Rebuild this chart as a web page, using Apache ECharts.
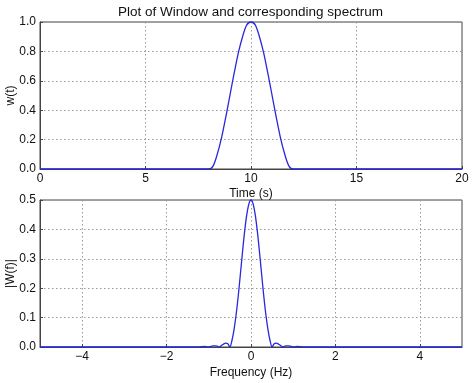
<!DOCTYPE html>
<html>
<head>
<meta charset="utf-8">
<script src="https://cdn.jsdelivr.net/npm/echarts@6/dist/echarts.min.js"></script>
<style>html,body{margin:0;padding:0;background:#fff}#c{width:474px;height:383px}</style>
</head>
<body>
<div id="c"></div>
<script>
// ---- Data ----
var titleText = 'Plot of Window and corresponding spectrum';
// Top panel: window w(t)
var timeVals = [0, 8, 8.2, 8.4, 8.6, 8.8, 9, 9.2, 9.4, 9.6, 9.8, 10, 10.2, 10.4, 10.6, 10.8, 11, 11.2, 11.4, 11.6, 11.8, 12, 20];
var windowVals = [0, 0, 0.02, 0.10, 0.21, 0.35, 0.50, 0.65, 0.79, 0.90, 0.98, 1.00, 0.98, 0.90, 0.79, 0.65, 0.50, 0.35, 0.21, 0.10, 0.02, 0, 0];
var timeTicks = [0, 5, 10, 15, 20];
var wTicks = [0, 0.2, 0.4, 0.6, 0.8, 1.0];
// Bottom panel: spectrum |W(f)|
var freqVals = [-5, -1.5, -1.25, -1.2, -1.15, -1.1, -1.05, -1.0, -0.95, -0.9, -0.85, -0.8, -0.75, -0.7, -0.65, -0.6, -0.55, -0.5, -0.45, -0.4, -0.35, -0.3, -0.25, -0.2, -0.15, -0.1, -0.05, 0,
                0.05, 0.1, 0.15, 0.2, 0.25, 0.3, 0.35, 0.4, 0.45, 0.5, 0.55, 0.6, 0.65, 0.7, 0.75, 0.8, 0.85, 0.9, 0.95, 1.0, 1.05, 1.1, 1.15, 1.2, 1.25, 1.5, 5];
var spectrumVals = [0, 0, 0, 0.0009, 0.0016, 0.0019, 0.0013, 0, 0.002, 0.0035, 0.004, 0.003, 0, 0.005, 0.010, 0.013, 0.011, 0, 0.023, 0.061, 0.113, 0.177, 0.250, 0.325, 0.394, 0.450, 0.487, 0.500,
                    0.487, 0.450, 0.394, 0.325, 0.250, 0.177, 0.113, 0.061, 0.023, 0, 0.011, 0.013, 0.010, 0.005, 0, 0.003, 0.004, 0.0035, 0.002, 0, 0.0013, 0.0019, 0.0016, 0.0009, 0, 0, 0];
var freqTicks = [-4, -2, 0, 2, 4];
var specTicks = [0, 0.1, 0.2, 0.3, 0.4, 0.5];

function pairs(xs, ys) { return xs.map(function (x, i) { return [x, ys[i]]; }); }
function minusFmt(v) { return v < 0 ? '\u2212' + (-v) : String(v); }

var FONT = 'Liberation Sans';
var SPINE = '#444';
var LINE = '#2828dc';
var gridSplit = { show: true, lineStyle: { color: '#999', type: [1.5, 2.5], width: 1 } };
var labelBase = { color: '#111', fontSize: 12, fontFamily: FONT };
var nameBase = { color: '#111', fontSize: 12, fontFamily: FONT };

var chart = echarts.init(document.getElementById('c'), null, { renderer: 'canvas' });
chart.setOption({
  animation: false,
  backgroundColor: '#fff',
  title: {
    text: titleText, left: 113, top: 0,
    textStyle: { color: '#111', fontSize: 13.5, fontWeight: 'normal', fontFamily: FONT }
  },
  grid: [
    { left: 40, right: 12, top: 22, height: 147, show: true, borderColor: SPINE, borderWidth: 1, containLabel: false, outerBoundsMode: 'none' },
    { left: 40, right: 12, top: 200, height: 147, show: true, borderColor: SPINE, borderWidth: 1, containLabel: false, outerBoundsMode: 'none' }
  ],
  xAxis: [
    {
      type: 'value', gridIndex: 0, min: timeTicks[0], max: timeTicks[timeTicks.length - 1], interval: 5,
      name: 'Time (s)', nameLocation: 'middle', nameGap: 19, nameTextStyle: nameBase,
      axisLine: { show: true, onZero: false, lineStyle: { color: SPINE } },
      axisTick: { show: true, inside: true, length: 3, lineStyle: { color: SPINE } },
      axisLabel: Object.assign({ margin: 4, formatter: function (v) { return String(v); } }, labelBase),
      splitLine: gridSplit
    },
    {
      type: 'value', gridIndex: 1, min: -5, max: 5,
      name: 'Frequency (Hz)', nameLocation: 'middle', nameGap: 20, nameTextStyle: nameBase,
      axisLine: { show: true, onZero: false, lineStyle: { color: SPINE } },
      axisTick: { show: true, inside: true, length: 3, lineStyle: { color: SPINE }, customValues: freqTicks },
      axisLabel: Object.assign({ margin: 4, customValues: freqTicks, formatter: minusFmt }, labelBase),
      splitLine: gridSplit
    }
  ],
  yAxis: [
    {
      type: 'value', gridIndex: 0, min: wTicks[0], max: wTicks[wTicks.length - 1], interval: 0.2,
      name: 'w(t)', nameLocation: 'middle', nameGap: 23, nameRotate: 90, nameMoveOverlap: false, nameTextStyle: nameBase,
      axisLine: { show: true, onZero: false, lineStyle: { color: SPINE } },
      axisTick: { show: true, inside: true, length: 3, lineStyle: { color: SPINE } },
      axisLabel: Object.assign({ margin: 4, formatter: function (v) { return v.toFixed(1); } }, labelBase),
      splitLine: gridSplit
    },
    {
      type: 'value', gridIndex: 1, min: specTicks[0], max: specTicks[specTicks.length - 1], interval: 0.1,
      name: '|W(f)|', nameLocation: 'middle', nameGap: 23, nameRotate: 90, nameMoveOverlap: false, nameTextStyle: nameBase,
      axisLine: { show: true, onZero: false, lineStyle: { color: SPINE } },
      axisTick: { show: true, inside: true, length: 3, lineStyle: { color: SPINE } },
      axisLabel: Object.assign({ margin: 4, formatter: function (v) { return v.toFixed(1); } }, labelBase),
      splitLine: gridSplit
    }
  ],
  series: [
    {
      type: 'line', xAxisIndex: 0, yAxisIndex: 0, data: pairs(timeVals, windowVals),
      showSymbol: false, smooth: 0.3, clip: false,
      lineStyle: { color: LINE, width: 1.3 }, itemStyle: { color: LINE }
    },
    {
      type: 'line', xAxisIndex: 1, yAxisIndex: 1, data: pairs(freqVals, spectrumVals),
      showSymbol: false, smooth: 0.3, clip: false,
      lineStyle: { color: LINE, width: 1.3 }, itemStyle: { color: LINE }
    }
  ]
});
</script>
</body>
</html>
